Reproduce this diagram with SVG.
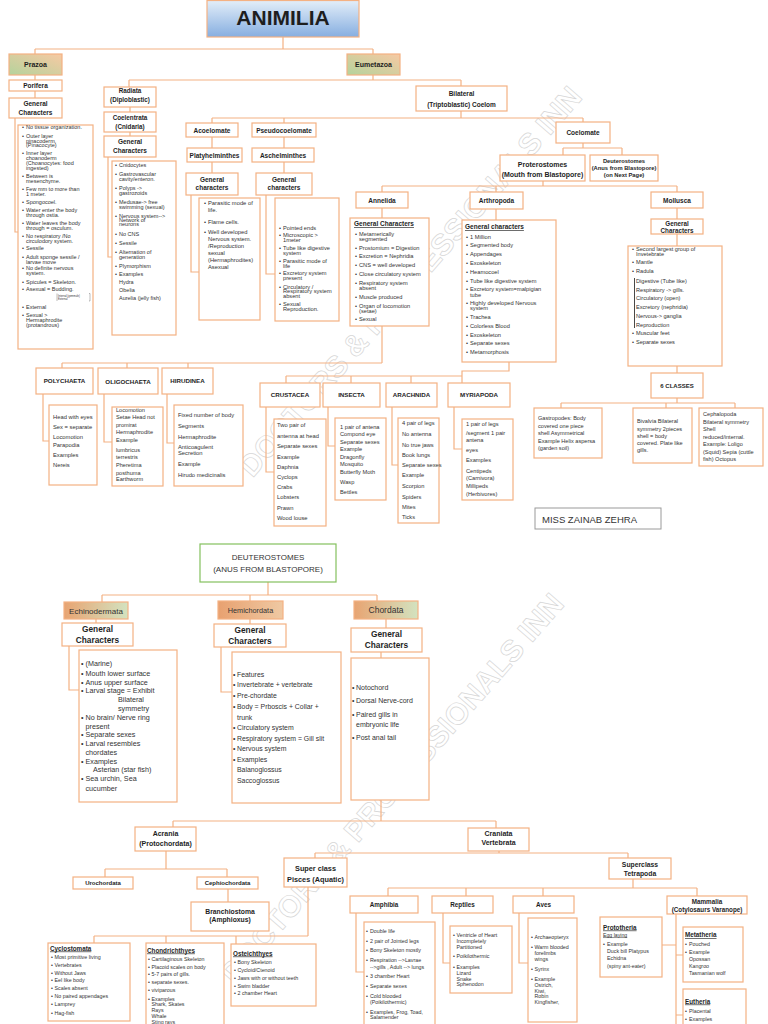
<svg xmlns="http://www.w3.org/2000/svg" width="768" height="1024" viewBox="0 0 768 1024">
<defs>
<linearGradient id="gTitle" x1="0" y1="0" x2="0" y2="1"><stop offset="0" stop-color="#E3EEF9"/><stop offset="1" stop-color="#86AEE0"/></linearGradient>
<linearGradient id="gGO" x1="0" y1="1" x2="1" y2="0"><stop offset="0" stop-color="#B4D39C"/><stop offset="1" stop-color="#F7C9A3"/></linearGradient>
<linearGradient id="gOG" x1="0" y1="0" x2="1" y2="0"><stop offset="0" stop-color="#E8A472"/><stop offset="1" stop-color="#D3E3C0"/></linearGradient>
<linearGradient id="gOO" x1="0" y1="0" x2="1" y2="0"><stop offset="0" stop-color="#E8A170"/><stop offset="1" stop-color="#EFC9A3"/></linearGradient>
<style>
.bx{fill:#fff;stroke:#F4B183;stroke-width:1.2}
.ln{fill:none;stroke:#F4B183;stroke-width:1.2}
.h{font-family:"Liberation Sans",Arial,sans-serif;font-weight:bold;fill:#1e1e1e;text-anchor:middle}
.t{font-family:"Liberation Sans",Arial,sans-serif;fill:#333}
.u{text-decoration:underline;font-weight:bold;fill:#1e1e1e}
.wm{font-family:"Liberation Sans",Arial,sans-serif;font-weight:bold;font-size:30px;fill:none;stroke:#d6d6d6;stroke-width:0.7;text-anchor:middle}
</style>
</defs>
<rect width="768" height="1024" fill="#fff"/>

<g id="watermark">
<text class="wm" transform="translate(418 288) rotate(-49)">DOCTORS &amp; PROFESSIONALS INN</text>
<text class="wm" transform="translate(400 795) rotate(-49)">DOCTORS &amp; PROFESSIONALS INN</text>
</g>

<g id="connectors">
<path class="ln" d="M283 37V49M35 49H373M35 49V54M373 49V54M35 75V80M35 91V98M15 118V232H18"/>
<path class="ln" d="M373 75V80M129 80H461M129 80V87M461 80V86M130 107V112M130 132V136M108 157V257H112"/>
<path class="ln" d="M461 111V118M212 118H583M212 118V123M284 118V123M583 118V122M212 137V148M212 162V173M191 195V272H199M284 137V148M284 162V173M266 195V274H275"/>
<path class="ln" d="M583 143V148M563 148H622M563 148V155M622 148V155M543 181V186M382 186H677M382 186V192M496 186V192M677 186V192"/>
<path class="ln" d="M382 208V218M382 326V363M62 363H382M62 363V368M127 363V368M188 363V368M43 394V441H49M104 394V442H112M167 394V443H174"/>
<path class="ln" d="M496 209V220M509 362V371H462V376M286 376H462M286 376V383M351 376V383M411 376V383M462 376V383M266 407V472H274M328 407V446H335M392 407V465H398M454 407V449H462"/>
<path class="ln" d="M677 208V219M677 234V246M677 366V373M677 398V403M561 403H735M561 403V408M666 403V408M735 403V408"/>
<path class="ln" d="M268 582V595M102 595H377M102 595V602M250 595V601M377 595V601M96 619V623M69 646V690H79M250 619V624M221 647V692H232M386 619V628M381 652V658"/>
<path class="ln" d="M381 800V821M173 821H496M173 821V827M496 821V828M166 851V869M105 869H227M105 869V877M227 869V877M228 889V902"/>
<path class="ln" d="M499 851V853M315 853H628M315 853V858M628 853V858M308 887V936M94 936H308M94 936V943M166 936V943M236 936V944"/>
<path class="ln" d="M633 879V888M388 888H697M388 888V896M466 888V896M543 888V896M697 888V896M356 913V972H364M443 913V963H450M519 913V963H528M676 914V1024M662 945H676M676 955H683M676 1015H683"/>
</g>

<g id="title"><rect x="207" y="0.5" width="152" height="36.5" fill="url(#gTitle)" stroke="#F4B183" stroke-width="1.2"/><text class="h" x="283" y="25" font-size="21">ANIMILIA</text></g>

<g id="prazoa"><rect x="9" y="54" width="53" height="21" fill="url(#gGO)" stroke="#F4B183" stroke-width="1.2"/><text class="h" x="35.5" y="67" font-size="7">Prazoa</text></g>
<g id="eumetazoa"><rect x="347" y="54" width="53" height="21" fill="url(#gGO)" stroke="#F4B183" stroke-width="1.2"/><text class="h" x="373.5" y="67" font-size="7">Eumetazoa</text></g>
<g id="porifera"><rect class="bx" x="9" y="80" width="53" height="11"/><text class="h" x="35.5" y="88" font-size="6.5">Porifera</text></g>
<g id="porifera-gc"><rect class="bx" x="9" y="98" width="53" height="20"/><text class="h" font-size="6.5"><tspan x="35.5" y="105.5">General</tspan><tspan x="35.5" y="114.5">Characters</tspan></text></g>
<g id="porifera-list"><rect class="bx" x="18" y="125" width="75" height="224"/>
<text class="t" font-size="5.5">
<tspan x="22" y="129">•</tspan><tspan x="26">No tissue organization.</tspan>
<tspan x="22" y="138">•</tspan><tspan x="26">Outer layer</tspan><tspan x="26" y="142.5">pinacoderm,</tspan><tspan x="26" y="147">(Pinacocyte)</tspan>
<tspan x="22" y="155">•</tspan><tspan x="26">Inner layer</tspan><tspan x="26" y="160">choanoderm</tspan><tspan x="26" y="165">(Choanocytes: food</tspan><tspan x="26" y="170">ingested)</tspan>
<tspan x="22" y="178">•</tspan><tspan x="26">Between is</tspan><tspan x="26" y="183">mesenchyme.</tspan>
<tspan x="22" y="191">•</tspan><tspan x="26">Few mm to more than</tspan><tspan x="26" y="196">1 meter.</tspan>
<tspan x="22" y="204">•</tspan><tspan x="26">Spongocoel.</tspan>
<tspan x="22" y="212">•</tspan><tspan x="26">Water enter the body</tspan><tspan x="26" y="217">through ostia.</tspan>
<tspan x="22" y="225">•</tspan><tspan x="26">Water leaves the body</tspan><tspan x="26" y="230">through = osculum.</tspan>
<tspan x="22" y="238">•</tspan><tspan x="26">No respiratory /No</tspan><tspan x="26" y="242.5">circulodory system.</tspan>
<tspan x="22" y="250">•</tspan><tspan x="26">Sessile</tspan>
<tspan x="22" y="259">•</tspan><tspan x="26">Adult sponge sessile /</tspan><tspan x="26" y="264">larvae move</tspan>
<tspan x="22" y="270">•</tspan><tspan x="26">No definite nervous</tspan><tspan x="26" y="275">system.</tspan>
<tspan x="22" y="284">•</tspan><tspan x="26">Spicules = Skeleton.</tspan>
<tspan x="22" y="291">•</tspan><tspan x="26">Asexual = Budding.</tspan>
<tspan x="22" y="309">•</tspan><tspan x="26">External</tspan>
<tspan x="22" y="317">•</tspan><tspan x="26">Sexual &gt;</tspan><tspan x="26" y="322">Hermaphrodite</tspan><tspan x="26" y="327">(protandrous)</tspan>
</text>
<text class="t" font-size="2.6"><tspan x="58" y="296.5">Internal (gemmule)</tspan><tspan x="58" y="300">External</tspan></text>
<path d="M57 293.5V301M89 293.5H90V301H89" fill="none" stroke="#555" stroke-width="0.4"/>
</g>

<g id="radiata"><rect class="bx" x="104" y="87" width="52" height="20"/><text class="h" font-size="6.3"><tspan x="130" y="93">Radiata</tspan><tspan x="130" y="102">(Diploblastic)</tspan></text></g>
<g id="coelentrata"><rect class="bx" x="104" y="112" width="52" height="20"/><text class="h" font-size="6.3"><tspan x="130" y="120">Coelentrata</tspan><tspan x="130" y="129">(Cnidaria)</tspan></text></g>
<g id="cnidaria-gc"><rect class="bx" x="104" y="136" width="52" height="21"/><text class="h" font-size="6.5"><tspan x="130" y="144">General</tspan><tspan x="130" y="152.5">Characters</tspan></text></g>
<g id="cnidaria-list"><rect class="bx" x="112" y="161" width="64" height="174"/>
<text class="t" font-size="5.5">
<tspan x="115" y="167">•</tspan><tspan x="119">Cnidocytes</tspan>
<tspan x="115" y="176">•</tspan><tspan x="119">Gastrovascular</tspan><tspan x="119" y="181">cavity/enteron.</tspan>
<tspan x="115" y="190">•</tspan><tspan x="119">Polyps -&gt;</tspan><tspan x="119" y="195">gastrozoids</tspan>
<tspan x="115" y="204">•</tspan><tspan x="119">Medusae-&gt; free</tspan><tspan x="119" y="209">swimming (sexual)</tspan>
<tspan x="115" y="218">•</tspan><tspan x="119">Nervous system--&gt;</tspan><tspan x="119" y="222">Network of</tspan><tspan x="119" y="226">neurons</tspan>
<tspan x="115" y="236">•</tspan><tspan x="119">No CNS</tspan>
<tspan x="115" y="245">•</tspan><tspan x="119">Sessile</tspan>
<tspan x="115" y="254">•</tspan><tspan x="119">Alternation of</tspan><tspan x="119" y="259">generation</tspan>
<tspan x="115" y="268">•</tspan><tspan x="119">Plymorphism</tspan>
<tspan x="115" y="276">•</tspan><tspan x="119">Examples</tspan>
<tspan x="119" y="284">Hydra</tspan><tspan x="119" y="292">Obelia</tspan><tspan x="119" y="300">Aurelia (jelly fish)</tspan>
</text></g>

<g id="bilateral"><rect class="bx" x="416" y="86" width="91" height="25"/><text class="h" font-size="6.5"><tspan x="461.5" y="95.5">Bilateral</tspan><tspan x="461.5" y="106.5">(Triptoblastic) Coelom</tspan></text></g>
<g id="acoelomate"><rect class="bx" x="186" y="123" width="52" height="14"/><text class="h" x="212" y="132.5" font-size="6.5">Acoelomate</text></g>
<g id="pseudocoelomate"><rect class="bx" x="252" y="123" width="64" height="14"/><text class="h" x="284" y="132.5" font-size="6.5">Pseudocoelomate</text></g>
<g id="platyhelminthes"><rect class="bx" x="187" y="148" width="55" height="14"/><text class="h" x="214.5" y="157.5" font-size="6.5">Platyhelminthes</text></g>
<g id="aschelminthes"><rect class="bx" x="252" y="148" width="62" height="14"/><text class="h" x="283" y="157.5" font-size="6.5">Aschelminthes</text></g>
<g id="platy-gc"><rect class="bx" x="186" y="173" width="52" height="22"/><text class="h" font-size="6.5"><tspan x="212" y="181.5">General</tspan><tspan x="212" y="189.5">characters</tspan></text></g>
<g id="asch-gc"><rect class="bx" x="256" y="173" width="56" height="22"/><text class="h" font-size="6.5"><tspan x="284" y="181.5">General</tspan><tspan x="284" y="189.5">characters</tspan></text></g>
<g id="platy-list"><rect class="bx" x="199" y="198" width="61" height="122"/>
<text class="t" font-size="5.8">
<tspan x="204" y="205">•</tspan><tspan x="208">Parasitic mode of</tspan><tspan x="208" y="212">life.</tspan>
<tspan x="204" y="224">•</tspan><tspan x="208">Flame cells.</tspan>
<tspan x="204" y="234">•</tspan><tspan x="208">Well developed</tspan><tspan x="208" y="241">Nervous system.</tspan><tspan x="208" y="248">/Reproduction</tspan><tspan x="208" y="255">sexual</tspan><tspan x="208" y="262">(Hermaphrodites)</tspan><tspan x="208" y="269">Asexual</tspan>
</text></g>
<g id="asch-list"><rect class="bx" x="275" y="198" width="64" height="123"/>
<text class="t" font-size="5.7">
<tspan x="279" y="230">•</tspan><tspan x="283">Pointed ends</tspan>
<tspan x="279" y="237">•</tspan><tspan x="283">Microscopic &gt;</tspan><tspan x="283" y="241.5">1meter</tspan>
<tspan x="279" y="250">•</tspan><tspan x="283">Tube like digestive</tspan><tspan x="283" y="255">system</tspan>
<tspan x="279" y="263">•</tspan><tspan x="283">Parasitic mode of</tspan><tspan x="283" y="267.5">life</tspan>
<tspan x="279" y="275">•</tspan><tspan x="283">Excretory system</tspan><tspan x="283" y="280">present</tspan>
<tspan x="279" y="289">•</tspan><tspan x="283">Circulatory /</tspan><tspan x="283" y="293">Respiratory system</tspan><tspan x="283" y="297.5">absent</tspan>
<tspan x="279" y="306">•</tspan><tspan x="283">Sexual</tspan><tspan x="283" y="311">Reproduction.</tspan>
</text></g>

<g id="coelomate"><rect class="bx" x="556" y="122" width="54" height="21"/><text class="h" x="583" y="135" font-size="6.5">Coelomate</text></g>
<g id="proterostomes"><rect class="bx" x="500" y="155" width="85" height="26"/><text class="h" font-size="7"><tspan x="542.5" y="166.5">Proterostomes</tspan><tspan x="542.5" y="176.5">(Mouth from Blastopore)</tspan></text></g>
<g id="deuterostomes-ref"><rect class="bx" x="590" y="155" width="68" height="26"/><text class="h" font-size="5.8"><tspan x="624" y="163">Deuterostomes</tspan><tspan x="624" y="170">(Anus from Blastopore)</tspan><tspan x="624" y="177">(on Next Page)</tspan></text></g>
<g id="annelida"><rect class="bx" x="356" y="192" width="52" height="16"/><text class="h" x="382" y="202.5" font-size="6.5">Annelida</text></g>
<g id="arthropoda"><rect class="bx" x="470" y="192" width="53" height="17"/><text class="h" x="496.5" y="203" font-size="6.5">Arthropoda</text></g>
<g id="mollusca"><rect class="bx" x="651" y="192" width="52" height="16"/><text class="h" x="677" y="202.5" font-size="6.5">Mollusca</text></g>

<g id="annelida-list"><rect class="bx" x="350" y="218" width="79" height="108"/>
<text class="t u" x="354" y="226" font-size="6.5">General Characters</text>
<text class="t" font-size="5.7">
<tspan x="355" y="236">•</tspan><tspan x="359">Metamerically</tspan><tspan x="359" y="241">segmented</tspan>
<tspan x="355" y="250">•</tspan><tspan x="359">Prostomium = Digestion</tspan>
<tspan x="355" y="258">•</tspan><tspan x="359">Excretion = Nephridia</tspan>
<tspan x="355" y="267">•</tspan><tspan x="359">CNS = well developed</tspan>
<tspan x="355" y="276">•</tspan><tspan x="359">Close circulatory system</tspan>
<tspan x="355" y="285">•</tspan><tspan x="359">Respiratory system</tspan><tspan x="359" y="290">absent</tspan>
<tspan x="355" y="299">•</tspan><tspan x="359">Muscle produced</tspan>
<tspan x="355" y="308">•</tspan><tspan x="359">Organ of locomotion</tspan><tspan x="359" y="312.5">(setae)</tspan>
<tspan x="355" y="321">•</tspan><tspan x="359">Sexual</tspan>
</text></g>

<g id="arthropoda-list"><rect class="bx" x="462" y="220" width="94" height="142"/>
<text class="t u" x="465" y="229" font-size="6.5">General characters</text>
<text class="t" font-size="5.7">
<tspan x="466" y="239">•</tspan><tspan x="470">1 Million</tspan>
<tspan x="466" y="247">•</tspan><tspan x="470">Segmented body</tspan>
<tspan x="466" y="256">•</tspan><tspan x="470">Appendages</tspan>
<tspan x="466" y="265">•</tspan><tspan x="470">Exoskeleton</tspan>
<tspan x="466" y="274">•</tspan><tspan x="470">Heamocoel</tspan>
<tspan x="466" y="283">•</tspan><tspan x="470">Tube like digestive system</tspan>
<tspan x="466" y="291">•</tspan><tspan x="470">Excretory system=malpigian</tspan><tspan x="470" y="296.5">tube</tspan>
<tspan x="466" y="305">•</tspan><tspan x="470">Highly developed Nervous</tspan><tspan x="470" y="310">system</tspan>
<tspan x="466" y="319">•</tspan><tspan x="470">Trachea</tspan>
<tspan x="466" y="328">•</tspan><tspan x="470">Colorless Blood</tspan>
<tspan x="466" y="337">•</tspan><tspan x="470">Exoskeleton</tspan>
<tspan x="466" y="345">•</tspan><tspan x="470">Separate sexes</tspan>
<tspan x="466" y="354">•</tspan><tspan x="470">Metamorphosis</tspan>
</text></g>

<g id="mollusca-gc"><rect class="bx" x="651" y="219" width="52" height="15"/><text class="h" font-size="6.3"><tspan x="677" y="225.5">General</tspan><tspan x="677" y="233">Characters</tspan></text></g>
<g id="mollusca-list"><rect class="bx" x="628" y="246" width="94" height="120"/>
<text class="t" font-size="5.6">
<tspan x="632" y="251">•</tspan><tspan x="636">Second largest group of</tspan><tspan x="636" y="256">Invetebrate</tspan>
<tspan x="632" y="264">•</tspan><tspan x="636">Mantle</tspan>
<tspan x="632" y="273">•</tspan><tspan x="636">Radula</tspan>
<tspan x="636" y="283">Digestive (Tube like)</tspan><tspan x="636" y="292">Respiratory -&gt; gills.</tspan><tspan x="636" y="300">Circulatory (open)</tspan><tspan x="636" y="309">Excretory (nephridia)</tspan><tspan x="636" y="318">Nervous-&gt; ganglia</tspan><tspan x="636" y="327">Reproduction</tspan>
<tspan x="632" y="335">•</tspan><tspan x="636">Muscular feet</tspan>
<tspan x="632" y="344">•</tspan><tspan x="636">Separate sexes</tspan>
</text>
<path d="M634.5 278V328" stroke="#333" stroke-width="0.9"/>
</g>

<g id="polychaeta"><rect class="bx" x="36" y="368" width="57" height="26"/><text class="h" x="64.5" y="383" font-size="6.2">POLYCHAETA</text></g>
<g id="oligochaeta"><rect class="bx" x="98" y="368" width="60" height="26"/><text class="h" x="128" y="384" font-size="6.2">OLIGOCHAETA</text></g>
<g id="hirudinea"><rect class="bx" x="162" y="368" width="51" height="26"/><text class="h" x="187.5" y="383" font-size="6.2">HIRUDINEA</text></g>
<g id="polychaeta-list"><rect class="bx" x="49" y="405" width="48" height="80"/>
<text class="t" font-size="5.8"><tspan x="53" y="419">Head with eyes</tspan><tspan x="53" y="429">Sex = separate</tspan><tspan x="53" y="439">Locomotion</tspan><tspan x="53" y="447">Parapodia</tspan><tspan x="53" y="457">Examples</tspan><tspan x="53" y="467">Nereis</tspan></text></g>
<g id="oligochaeta-list"><rect class="bx" x="112" y="407" width="51" height="79"/>
<text class="t" font-size="5.6"><tspan x="116" y="412">Locomotion</tspan><tspan x="116" y="419">Setae Head not</tspan><tspan x="116" y="427">promirat</tspan><tspan x="116" y="434">Hermaphrodite</tspan><tspan x="116" y="442">Example</tspan><tspan x="116" y="452">lumbricus</tspan><tspan x="116" y="459">terrestris</tspan><tspan x="116" y="467">Pheretima</tspan><tspan x="116" y="475">posthuma</tspan><tspan x="116" y="481">Earthworm</tspan></text></g>
<g id="hirudinea-list"><rect class="bx" x="174" y="405" width="69" height="81"/>
<text class="t" font-size="5.8"><tspan x="178" y="417">Fixed number of body</tspan><tspan x="178" y="428">Segments</tspan><tspan x="178" y="439">Hermaphrodite</tspan><tspan x="178" y="449">Anticoagulent</tspan><tspan x="178" y="455">Secretion</tspan><tspan x="178" y="466">Example</tspan><tspan x="178" y="477">Hirudo medicinalis</tspan></text></g>

<g id="crustacea"><rect class="bx" x="260" y="383" width="60" height="24"/><text class="h" x="290" y="397" font-size="6.2">CRUSTACEA</text></g>
<g id="insecta"><rect class="bx" x="323" y="383" width="57" height="24"/><text class="h" x="351.5" y="397" font-size="6.2">INSECTA</text></g>
<g id="arachnida"><rect class="bx" x="386" y="383" width="51" height="24"/><text class="h" x="411.5" y="397" font-size="6.2">ARACHNIDA</text></g>
<g id="myriapoda"><rect class="bx" x="448" y="383" width="62" height="24"/><text class="h" x="479" y="397" font-size="6.2">MYRIAPODA</text></g>
<g id="crustacea-list"><rect class="bx" x="274" y="419" width="52" height="107"/>
<text class="t" font-size="5.8"><tspan x="277" y="427">Two pair of</tspan><tspan x="277" y="438">antenna at head</tspan><tspan x="277" y="448">Separate sexes</tspan><tspan x="277" y="459">Example</tspan><tspan x="277" y="469">Daphnia</tspan><tspan x="277" y="479">Cyclops</tspan><tspan x="277" y="489">Crabs</tspan><tspan x="277" y="499">Lobsters</tspan><tspan x="277" y="510">Prawn</tspan><tspan x="277" y="520">Wood louse</tspan></text></g>
<g id="insecta-list"><rect class="bx" x="335" y="418" width="51" height="82"/>
<text class="t" font-size="5.7"><tspan x="340" y="429">1 pair of antena</tspan><tspan x="340" y="435.5">Compond eye</tspan><tspan x="340" y="444">Separate sexes</tspan><tspan x="340" y="451">Example</tspan><tspan x="340" y="459">Dragonfly</tspan><tspan x="340" y="466">Mosquito</tspan><tspan x="340" y="474">Butterfly Moth</tspan><tspan x="340" y="484">Wasp</tspan><tspan x="340" y="494">Bettles</tspan></text></g>
<g id="arachnida-list"><rect class="bx" x="398" y="418" width="41" height="105"/>
<text class="t" font-size="5.7"><tspan x="402" y="425">4 pair of legs</tspan><tspan x="402" y="436">No antenna</tspan><tspan x="402" y="447">No true jaws</tspan><tspan x="402" y="457">Book lungs</tspan><tspan x="402" y="467">Separate sexes</tspan><tspan x="402" y="477">Example</tspan><tspan x="402" y="488">Scorpion</tspan><tspan x="402" y="499">Spiders</tspan><tspan x="402" y="509">Mites</tspan><tspan x="402" y="519">Ticks</tspan></text></g>
<g id="myriapoda-list"><rect class="bx" x="462" y="419" width="51" height="81"/>
<text class="t" font-size="5.7"><tspan x="466" y="426">1 pair of legs</tspan><tspan x="466" y="435">/segment 1 pair</tspan><tspan x="466" y="442">antena</tspan><tspan x="466" y="452">eyes</tspan><tspan x="466" y="462">Examples</tspan><tspan x="466" y="473">Centipeds</tspan><tspan x="466" y="480">(Carnivora)</tspan><tspan x="466" y="488">Millipeds</tspan><tspan x="466" y="496">(Herbivores)</tspan></text></g>

<g id="six-classes"><rect class="bx" x="651" y="373" width="52" height="25"/><text class="h" x="677" y="387.5" font-size="6">6 CLASSES</text></g>
<g id="gastropoda"><rect class="bx" x="534" y="408" width="68" height="50"/>
<text class="t" font-size="5.6"><tspan x="538" y="420">Gastropodes: Body</tspan><tspan x="538" y="428">covered one piece</tspan><tspan x="538" y="435">shell Asymmetrical</tspan><tspan x="538" y="443">Example Helix aspersa</tspan><tspan x="538" y="450">(garden soil)</tspan></text></g>
<g id="bivalvia"><rect class="bx" x="633" y="408" width="59" height="55"/>
<text class="t" font-size="5.6"><tspan x="637" y="423">Bivalvia Bilateral</tspan><tspan x="637" y="431">symmetry 2pieces</tspan><tspan x="637" y="437.5">shell = body</tspan><tspan x="637" y="445">covered. Plate like</tspan><tspan x="637" y="452">gills.</tspan></text></g>
<g id="cephalopoda"><rect class="bx" x="699" y="408" width="64" height="58"/>
<text class="t" font-size="5.6"><tspan x="703" y="416">Cephalopoda</tspan><tspan x="703" y="424">Bilateral symmetry</tspan><tspan x="703" y="431">Shell</tspan><tspan x="703" y="439">reduced/internal.</tspan><tspan x="703" y="446">Example: Loligo</tspan><tspan x="703" y="454">(Squid) Sepia (cuttle</tspan><tspan x="703" y="461">fish) Octopus</tspan></text></g>

<g id="author"><rect x="535" y="508" width="126" height="21" fill="#fff" stroke="#9a9a9a" stroke-width="1"/><text class="t" x="542" y="522.5" font-size="9.5" fill="#222">MISS ZAINAB ZEHRA</text></g>

<g id="deuterostomes"><rect x="200" y="544" width="136" height="38" fill="#fff" stroke="#84C05E" stroke-width="1.2"/><text class="t" font-size="8" text-anchor="middle" fill="#222"><tspan x="268" y="560">DEUTEROSTOMES</tspan><tspan x="268" y="572">(ANUS FROM BLASTOPORE)</tspan></text></g>
<g id="echinodermata"><rect x="64" y="602" width="64" height="17" fill="url(#gOG)" stroke="#F4B183" stroke-width="1.2"/><text class="t" x="96" y="613.5" font-size="8" text-anchor="middle" fill="#222">Echinodermata</text></g>
<g id="hemichordata"><rect x="218" y="601" width="65" height="18" fill="url(#gOO)" stroke="#F4B183" stroke-width="1.2"/><text class="t" x="250.5" y="613" font-size="7.3" text-anchor="middle" fill="#222">Hemichordata</text></g>
<g id="chordata"><rect x="354" y="601" width="64" height="18" fill="url(#gOG)" stroke="#F4B183" stroke-width="1.2"/><text class="t" x="386" y="613" font-size="8.5" text-anchor="middle" fill="#222">Chordata</text></g>
<g id="echino-gc"><rect class="bx" x="62" y="623" width="71" height="23"/><text class="h" font-size="8.3"><tspan x="97.5" y="632">General</tspan><tspan x="97.5" y="642.5">Characters</tspan></text></g>
<g id="hemi-gc"><rect class="bx" x="214" y="624" width="72" height="23"/><text class="h" font-size="8.3"><tspan x="250" y="632.5">General</tspan><tspan x="250" y="643.5">Characters</tspan></text></g>
<g id="chord-gc"><rect class="bx" x="351" y="628" width="71" height="24"/><text class="h" font-size="8.3"><tspan x="386.5" y="636.5">General</tspan><tspan x="386.5" y="647.5">Characters</tspan></text></g>

<g id="echino-list"><rect class="bx" x="79" y="650" width="98" height="152"/>
<text class="t" font-size="7.2">
<tspan x="81" y="666">•</tspan><tspan x="85.5">(Marine)</tspan>
<tspan x="81" y="676">•</tspan><tspan x="85.5">Mouth lower surface</tspan>
<tspan x="81" y="685">•</tspan><tspan x="85.5">Anus upper surface</tspan>
<tspan x="81" y="693">•</tspan><tspan x="85.5">Larval stage = Exhibit</tspan>
<tspan x="118" y="702">Bilateral</tspan><tspan x="118" y="711">symmetry</tspan>
<tspan x="81" y="720">•</tspan><tspan x="85.5">No brain/ Nerve ring</tspan><tspan x="85.5" y="729">present</tspan>
<tspan x="81" y="737">•</tspan><tspan x="85.5">Separate sexes</tspan>
<tspan x="81" y="746">•</tspan><tspan x="85.5">Larval resembles</tspan><tspan x="85.5" y="755">chordates</tspan>
<tspan x="81" y="764">•</tspan><tspan x="85.5">Examples</tspan>
<tspan x="93" y="772">Asterian (star fish)</tspan>
<tspan x="81" y="781">•</tspan><tspan x="85.5">Sea urchin, Sea</tspan><tspan x="85.5" y="791">cucumber</tspan>
</text></g>
<g id="hemi-list"><rect class="bx" x="232" y="652" width="109" height="151"/>
<text class="t" font-size="6.9">
<tspan x="233" y="677">•</tspan><tspan x="237">Features</tspan>
<tspan x="233" y="687">•</tspan><tspan x="237">Invertebrate + vertebrate</tspan>
<tspan x="233" y="698">•</tspan><tspan x="237">Pre-chordate</tspan>
<tspan x="233" y="709">•</tspan><tspan x="237">Body = Prboscis + Collar +</tspan><tspan x="237" y="720">trunk</tspan>
<tspan x="233" y="730">•</tspan><tspan x="237">Circulatory system</tspan>
<tspan x="233" y="741">•</tspan><tspan x="237">Respiratory system = Gill slit</tspan>
<tspan x="233" y="751">•</tspan><tspan x="237">Nervous system</tspan>
<tspan x="233" y="762">•</tspan><tspan x="237">Examples</tspan>
<tspan x="237" y="772">Balanoglossus</tspan><tspan x="237" y="783">Saccoglossus</tspan>
</text></g>
<g id="chord-list"><rect class="bx" x="351" y="658" width="78" height="142"/>
<text class="t" font-size="7">
<tspan x="352" y="690">•</tspan><tspan x="356">Notochord</tspan>
<tspan x="352" y="703">•</tspan><tspan x="356">Dorsal Nerve-cord</tspan>
<tspan x="352" y="717">•</tspan><tspan x="356">Paired gills in</tspan><tspan x="356" y="727">embryonic life</tspan>
<tspan x="352" y="740">•</tspan><tspan x="356">Post anal tail</tspan>
</text></g>

<g id="acrania"><rect class="bx" x="135" y="827" width="61" height="24"/><text class="h" font-size="7"><tspan x="165.5" y="835.5">Acrania</tspan><tspan x="165.5" y="845.5">(Protochordata)</tspan></text></g>
<g id="craniata"><rect class="bx" x="468" y="828" width="61" height="23"/><text class="h" font-size="7"><tspan x="498.5" y="835.5">Craniata</tspan><tspan x="498.5" y="844.5">Vertebrata</tspan></text></g>
<g id="urochordata"><rect class="bx" x="73" y="877" width="60" height="12"/><text class="h" x="103" y="885.3" font-size="6">Urochordata</text></g>
<g id="cephiochordata"><rect class="bx" x="197" y="877" width="61" height="12"/><text class="h" x="227.5" y="885.3" font-size="6">Cephiochordata</text></g>
<g id="branchiostoma"><rect class="bx" x="191" y="902" width="78" height="29"/><text class="h" font-size="6.8"><tspan x="230" y="913.5">Branchiostoma</tspan><tspan x="230" y="922">(Amphioxus)</tspan></text></g>
<g id="pisces"><rect class="bx" x="284" y="858" width="63" height="29"/><text class="h" font-size="7.3"><tspan x="315.5" y="871">Super class</tspan><tspan x="315.5" y="882">Pisces (Aquatic)</tspan></text></g>
<g id="tetrapoda"><rect class="bx" x="609" y="858" width="62" height="21"/><text class="h" font-size="6.8"><tspan x="640" y="866.5">Superclass</tspan><tspan x="640" y="875.5">Tetrapoda</tspan></text></g>
<g id="amphibia"><rect class="bx" x="350" y="896" width="68" height="17"/><text class="h" x="384" y="907" font-size="6.3">Amphibia</text></g>
<g id="reptiles"><rect class="bx" x="432" y="896" width="61" height="17"/><text class="h" x="462.5" y="907" font-size="6.3">Reptiles</text></g>
<g id="aves"><rect class="bx" x="513" y="896" width="61" height="17"/><text class="h" x="543.5" y="907" font-size="6.3">Aves</text></g>
<g id="mammalia"><rect class="bx" x="667" y="896" width="80" height="18"/><text class="h" font-size="6.3"><tspan x="707" y="903.5">Mammalia</tspan><tspan x="707" y="911.5">(Cotylosaurs Varanope)</tspan></text></g>

<g id="cyclostomata"><rect class="bx" x="48" y="943" width="82" height="78"/>
<text class="t u" x="50" y="950.5" font-size="6.3">Cyclostomata</text>
<text class="t" font-size="5.3">
<tspan x="51" y="959">•</tspan><tspan x="54.5">Most primitive living</tspan>
<tspan x="51" y="966.5">•</tspan><tspan x="54.5">Vertebrates</tspan>
<tspan x="51" y="975">•</tspan><tspan x="54.5">Without Jaws</tspan>
<tspan x="51" y="982">•</tspan><tspan x="54.5">Eel like body</tspan>
<tspan x="51" y="990">•</tspan><tspan x="54.5">Scales absent</tspan>
<tspan x="51" y="998">•</tspan><tspan x="54.5">No paired appendages</tspan>
<tspan x="51" y="1006">•</tspan><tspan x="54.5">Lamprey</tspan>
<tspan x="51" y="1015">•</tspan><tspan x="54.5">Hag-fish</tspan>
</text></g>
<g id="chondrichthyes"><rect class="bx" x="146" y="943" width="78" height="95"/>
<text class="t u" x="147" y="952.5" font-size="6.3">Chondrichthyes</text>
<text class="t" font-size="5.3">
<tspan x="148" y="960.5">•</tspan><tspan x="151.5">Cartilaginous Skeleton</tspan>
<tspan x="148" y="969">•</tspan><tspan x="151.5">Placoid scales on body</tspan>
<tspan x="148" y="976">•</tspan><tspan x="151.5">5-7 pairs of gills.</tspan>
<tspan x="148" y="984">•</tspan><tspan x="151.5">separate sexes.</tspan>
<tspan x="148" y="992">•</tspan><tspan x="151.5">viviparous</tspan>
<tspan x="148" y="1001">•</tspan><tspan x="151.5">Examples</tspan><tspan x="151.5" y="1006">Shark, Skates</tspan><tspan x="151.5" y="1012">Rays</tspan><tspan x="151.5" y="1018">Whale</tspan><tspan x="151.5" y="1024">Sting rays</tspan>
</text></g>
<g id="osteichthyes"><rect class="bx" x="231" y="944" width="85" height="62"/>
<text class="t u" x="233" y="955.5" font-size="6.3">Osteichthyes</text>
<text class="t" font-size="5.3">
<tspan x="234" y="963.5">•</tspan><tspan x="237.5">Bony Skeleton</tspan>
<tspan x="234" y="971.5">•</tspan><tspan x="237.5">Cycloid/Ctenoid</tspan>
<tspan x="234" y="979.5">•</tspan><tspan x="237.5">Jaws with or without teeth</tspan>
<tspan x="234" y="987.5">•</tspan><tspan x="237.5">Swim bladder</tspan>
<tspan x="234" y="994.5">•</tspan><tspan x="237.5">2 chamber Heart</tspan>
</text></g>

<g id="amphibia-list"><rect class="bx" x="364" y="922" width="71" height="110"/>
<text class="t" font-size="5.3">
<tspan x="366" y="933">•</tspan><tspan x="370">Double life</tspan>
<tspan x="366" y="943">•</tspan><tspan x="370">2 pair of Jointed legs</tspan>
<tspan x="366" y="952">•</tspan><tspan x="370">Bony Skeleton mostly</tspan>
<tspan x="366" y="962">•</tspan><tspan x="370">Respiration --&gt;Lavrae</tspan><tspan x="370" y="969">--&gt;gills , Adult --&gt; lungs</tspan>
<tspan x="366" y="978">•</tspan><tspan x="370">3 chamber Heart</tspan>
<tspan x="366" y="988">•</tspan><tspan x="370">Separate sexes</tspan>
<tspan x="366" y="998">•</tspan><tspan x="370">Cold blooded</tspan><tspan x="370" y="1004">(Poikilothermic)</tspan>
<tspan x="366" y="1014">•</tspan><tspan x="370">Examples, Frog, Toad,</tspan><tspan x="370" y="1019">Salamender</tspan>
</text></g>
<g id="reptiles-list"><rect class="bx" x="450" y="926" width="62" height="67"/>
<text class="t" font-size="5.3">
<tspan x="453" y="937">•</tspan><tspan x="456.5">Ventricle of Heart</tspan><tspan x="456.5" y="943">Incompletely</tspan><tspan x="456.5" y="949">Partitioned</tspan>
<tspan x="453" y="958">•</tspan><tspan x="456.5">Poikilothermic</tspan>
<tspan x="453" y="969">•</tspan><tspan x="456.5">Examples</tspan><tspan x="456.5" y="975">Lizard</tspan><tspan x="456.5" y="980.5">Snake</tspan><tspan x="456.5" y="986">Sphenodon</tspan>
</text></g>
<g id="aves-list"><rect class="bx" x="528" y="918" width="49" height="104"/>
<text class="t" font-size="5.3">
<tspan x="531" y="939">•</tspan><tspan x="534.5">Archaeopteryx</tspan>
<tspan x="531" y="949">•</tspan><tspan x="534.5">Warm blooded</tspan><tspan x="534.5" y="955">forelimbs</tspan><tspan x="534.5" y="961">wings</tspan>
<tspan x="531" y="971">•</tspan><tspan x="534.5">Syrinx</tspan>
<tspan x="531" y="981">•</tspan><tspan x="534.5">Example</tspan><tspan x="534.5" y="987">Ostrich,</tspan><tspan x="534.5" y="993">Kiwi,</tspan><tspan x="534.5" y="998">Robin</tspan><tspan x="534.5" y="1004">Kingfisher,</tspan>
</text></g>

<g id="prototheria"><rect class="bx" x="600" y="917" width="62" height="60"/>
<text class="t u" x="603" y="929.5" font-size="6.3">Prototheria</text>
<text class="t" x="603" y="936.5" font-size="5.2" text-decoration="underline">Egg laying</text>
<text class="t" font-size="5.3">
<tspan x="603" y="946">•</tspan><tspan x="607">Example</tspan><tspan x="607" y="953">Duck bill Platypus</tspan><tspan x="607" y="960">Echidna</tspan><tspan x="607" y="968">(spiny ant-eater)</tspan>
</text></g>
<g id="metatheria"><rect class="bx" x="683" y="927" width="60" height="55"/>
<text class="t u" x="685" y="937" font-size="6.3">Metatheria</text>
<text class="t" font-size="5.3">
<tspan x="685" y="946">•</tspan><tspan x="689">Pouched</tspan>
<tspan x="685" y="954">•</tspan><tspan x="689">Example</tspan><tspan x="689" y="960.5">Opossan</tspan><tspan x="689" y="968">Kangroo</tspan><tspan x="689" y="975">Tasmanian wolf</tspan>
</text></g>
<g id="eutheria"><rect class="bx" x="683" y="989" width="63" height="50"/>
<text class="t u" x="685" y="1003.5" font-size="6.3">Eutheria</text>
<text class="t" font-size="5.3">
<tspan x="685" y="1013">•</tspan><tspan x="689">Placental</tspan>
<tspan x="685" y="1020.5">•</tspan><tspan x="689">Examples</tspan>
</text></g>
</svg>
